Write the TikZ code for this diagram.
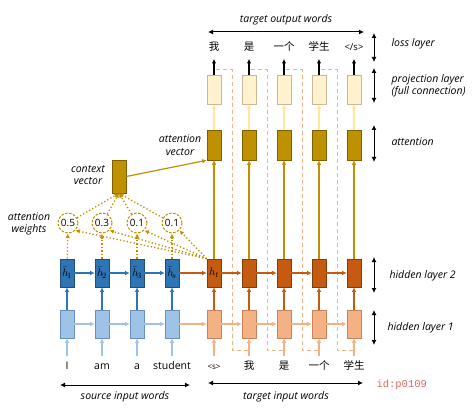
\documentclass[tikz,border=0pt]{standalone}
\usepackage{fontspec}
\setmainfont{Open Sans}
\newfontfamily\cjk{Noto Sans CJK SC}
\newfontfamily\idfont{Liberation Mono}
\usepackage{xcolor}
\usetikzlibrary{arrows.meta}
\tikzset{>={Latex[length=4.5pt,width=4.5pt]}}
\definecolor{blueDark}{HTML}{2E75B6}
\definecolor{blueDarkLine}{HTML}{1F4E79}
\definecolor{blueLight}{HTML}{9DC3E6}
\definecolor{blueLightLine}{HTML}{6C8EBF}
\definecolor{orangeDark}{HTML}{C55A11}
\definecolor{orangeDarkLine}{HTML}{843C0C}
\definecolor{orangeLight}{HTML}{F4B183}
\definecolor{orangeLightLine}{HTML}{C9835A}
\definecolor{gold}{HTML}{BF9000}
\definecolor{goldLine}{HTML}{7F6000}
\definecolor{cream}{HTML}{FFF2CC}
\definecolor{creamLine}{HTML}{C9B99A}
\definecolor{yellowArrow}{HTML}{FFE699}
\definecolor{idred}{HTML}{E06666}

\begin{document}
\begin{tikzpicture}[x=1pt,y=-1pt,
  every node/.style={font=\fontsize{10.5}{12.5}\selectfont},
  cell/.style={minimum width=14pt,minimum height=28pt,inner sep=0pt,line width=0.6pt},
  srcone/.style={cell,fill=blueLight,draw=blueLightLine},
  srctwo/.style={cell,fill=blueDark,draw=blueDarkLine,font=\fontsize{11}{13}\selectfont},
  tgtone/.style={cell,fill=orangeLight,draw=orangeLightLine},
  tgttwo/.style={cell,fill=orangeDark,draw=orangeDarkLine,font=\fontsize{11}{13}\selectfont},
  attn/.style={cell,minimum height=30pt,fill=gold,draw=goldLine},
  proj/.style={cell,minimum height=29pt,fill=cream,draw=creamLine},
  word/.style={text height=7.5pt,text depth=2pt,inner xsep=1pt,inner ysep=6pt},
  weight/.style={circle,draw=gold,dash pattern=on 2.5pt off 1.5pt,line width=1pt,minimum size=20pt,inner sep=0pt,font=\fontsize{10}{12}\selectfont},
  note/.style={font=\fontsize{10.5}{12.5}\selectfont\itshape,align=center},
  side/.style={note,anchor=west,align=left},
  arr/.style={->,line width=1.2pt},
  dots/.style={->,gold,line width=1.3pt,dash pattern=on 1.3pt off 2.2pt},
  fb/.style={orangeLight,line width=1pt,dash pattern=on 4pt off 3pt},
  span/.style={{Latex[length=5pt,width=5pt]}-{Latex[length=5pt,width=5pt]},line width=1pt}]
\useasboundingbox (0,0) rectangle (474,409);

% source words and encoder
\node[word] (wsrc1) at (67,367) {I};
\node[word] (wsrc2) at (102,367) {am};
\node[word] (wsrc3) at (137,367) {a};
\node[word] (wsrc4) at (172,367) {student};
\node[srcone] (src1) at (67,324) {};
\node[srcone] (src2) at (102,324) {};
\node[srcone] (src3) at (137,324) {};
\node[srcone] (src4) at (172,324) {};
\node[srctwo] (hs1) at (67,273) {$\bar{h}_{\!1}$};
\node[srctwo] (hs2) at (102,273) {$\bar{h}_{\!2}$};
\node[srctwo] (hs3) at (137,273) {$\bar{h}_{\!3}$};
\node[srctwo] (hs4) at (172,273) {$\bar{h}_{\!s}$};

% target words and decoder
\node[word] (win1) at (214,367) {\fontsize{8}{10}\selectfont <s>};
\node[word] (win2) at (249,367) {\cjk 我};
\node[word] (win3) at (284,367) {\cjk 是};
\node[word] (win4) at (319,367) {\cjk 一个};
\node[word] (win5) at (354,367) {\cjk 学生};
\node[tgtone] (in1) at (214,324) {};
\node[tgtone] (in2) at (249,324) {};
\node[tgtone] (in3) at (284,324) {};
\node[tgtone] (in4) at (319,324) {};
\node[tgtone] (in5) at (354,324) {};
\node[tgttwo] (ht1) at (214,273) {$h_t$};
\node[tgttwo] (ht2) at (249,273) {};
\node[tgttwo] (ht3) at (284,273) {};
\node[tgttwo] (ht4) at (319,273) {};
\node[tgttwo] (ht5) at (354,273) {};
\node[attn] (att1) at (214,145) {};
\node[attn] (att2) at (249,145) {};
\node[attn] (att3) at (284,145) {};
\node[attn] (att4) at (319,145) {};
\node[attn] (att5) at (354,145) {};
\node[proj] (proj1) at (214,89.5) {};
\node[proj] (proj2) at (249,89.5) {};
\node[proj] (proj3) at (284,89.5) {};
\node[proj] (proj4) at (319,89.5) {};
\node[proj] (proj5) at (354,89.5) {};
\node[word] (wout1) at (214,48) {\cjk 我};
\node[word] (wout2) at (249,48) {\cjk 是};
\node[word] (wout3) at (284,48) {\cjk 一个};
\node[word] (wout4) at (319,48) {\cjk 学生};
\node[word] (wout5) at (354,48) {\fontsize{9.5}{11}\selectfont </s>};

% attention weights and context vector
\node[weight] (wt1) at (68,223) {0.5};
\node[weight] (wt2) at (102,223) {0.3};
\node[weight] (wt3) at (137,223) {0.1};
\node[weight] (wt4) at (172,223) {0.1};
\node[cell,minimum height=33pt,fill=gold,draw=goldLine] (ctx) at (119,176.5) {};

% feedback points
\coordinate (fb2) at (249,350);
\coordinate (fb3) at (284,350);
\coordinate (fb4) at (319,350);
\coordinate (fb5) at (354,350);

% labels
\node[note] (ltop) at (286,20) {target output words};
\node[note] (lsrc) at (125,397) {source input words};
\node[note] (ltgt) at (286,397) {target input words};
\node[note] (lctx) at (88,175) {context\\vector};
\node[note] (lattv) at (180,145) {attention\\vector};
\node[note] (lwts) at (29,224) {attention\\weights};
\node[side] (lloss) at (388,44) {loss layer};
\node[side] (lproj) at (388,86) {projection layer\\(full connection)};
\node[side] (latt) at (388,142) {attention};
\node[side] (lh2) at (386,276) {hidden layer 2};
\node[side] (lh1) at (384,328) {hidden layer 1};
\node[anchor=west,text=idred,font=\idfont\fontsize{10.5}{12}\selectfont] (tag) at (373,385) {id:p0109};

% feedback from outputs to next inputs
\draw[fb] ([xshift=2pt,yshift=5pt]proj1.north) -- ++(16,0) |- (fb2);
\draw[fb] ([xshift=2pt,yshift=5pt]proj2.north) -- ++(16,0) |- (fb3);
\draw[fb] ([xshift=2pt,yshift=5pt]proj3.north) -- ++(16,0) |- (fb4);
\draw[fb] ([xshift=2pt,yshift=5pt]proj4.north) -- ++(16,0) |- (fb5);

% encoder connections
\draw[arr,blueLight] (wsrc1) -- (src1);
\draw[arr,blueLight] (wsrc2) -- (src2);
\draw[arr,blueLight] (wsrc3) -- (src3);
\draw[arr,blueLight] (wsrc4) -- (src4);
\draw[arr,blueLight] (src1) -- (src2);
\draw[arr,blueLight] (src2) -- (src3);
\draw[arr,blueLight] (src3) -- (src4);
\draw[arr,blueDark] (src1) -- (hs1);
\draw[arr,blueDark] (src2) -- (hs2);
\draw[arr,blueDark] (src3) -- (hs3);
\draw[arr,blueDark] (src4) -- (hs4);
\draw[arr,blueDark] (hs1) -- (hs2);
\draw[arr,blueDark] (hs2) -- (hs3);
\draw[arr,blueDark] (hs3) -- (hs4);

% decoder connections
\draw[arr,orangeLight] (src4) -- (in1);
\draw[arr,orangeDark] (hs4) -- (ht1);
\draw[arr,orangeLight] (win1) -- (in1);
\draw[arr,orangeLight] (win2) -- (in2);
\draw[arr,orangeLight] (win3) -- (in3);
\draw[arr,orangeLight] (win4) -- (in4);
\draw[arr,orangeLight] (win5) -- (in5);
\draw[arr,orangeLight] (in1) -- (in2);
\draw[arr,orangeLight] (in2) -- (in3);
\draw[arr,orangeLight] (in3) -- (in4);
\draw[arr,orangeLight] (in4) -- (in5);
\draw[arr,orangeDark] (in1) -- (ht1);
\draw[arr,orangeDark] (in2) -- (ht2);
\draw[arr,orangeDark] (in3) -- (ht3);
\draw[arr,orangeDark] (in4) -- (ht4);
\draw[arr,orangeDark] (in5) -- (ht5);
\draw[arr,orangeDark] (ht1) -- (ht2);
\draw[arr,orangeDark] (ht2) -- (ht3);
\draw[arr,orangeDark] (ht3) -- (ht4);
\draw[arr,orangeDark] (ht4) -- (ht5);
\draw[arr,gold] (ht1) -- (att1);
\draw[arr,gold] (ht2) -- (att2);
\draw[arr,gold] (ht3) -- (att3);
\draw[arr,gold] (ht4) -- (att4);
\draw[arr,gold] (ht5) -- (att5);
\draw[arr,yellowArrow] (att1) -- (proj1);
\draw[arr,yellowArrow] (att2) -- (proj2);
\draw[arr,yellowArrow] (att3) -- (proj3);
\draw[arr,yellowArrow] (att4) -- (proj4);
\draw[arr,yellowArrow] (att5) -- (proj5);
\draw[arr,black] (proj1) -- (wout1);
\draw[arr,black] (proj2) -- (wout2);
\draw[arr,black] (proj3) -- (wout3);
\draw[arr,black] (proj4) -- (wout4);
\draw[arr,black] (proj5) -- (wout5);

% attention
\draw[dots] (hs1) -- (wt1);
\draw[dots] (hs2) -- (wt2);
\draw[dots] (hs3) -- (wt3);
\draw[dots] (hs4) -- (wt4);
\draw[dots] (ht1.north west) -- (wt1.south east);
\draw[dots] (ht1.north west) -- (wt2.south east);
\draw[dots] (ht1.north west) -- (wt3.south east);
\draw[dots] (ht1.north west) -- (wt4.south east);
\draw[dots] (wt1) -- (ctx.south);
\draw[dots] (wt2) -- (ctx.south);
\draw[dots] (wt3) -- (ctx.south);
\draw[dots] (wt4) -- (ctx.south);
\draw[arr,gold] (ctx.east) -- (att1.south west);

% spans
\draw[span] (208,32) -- (364,32);
\draw[span] (60,385) -- (190,385);
\draw[span] (208,383) -- (363,383);
\draw[span] (374,33) -- (374,62);
\draw[span] (374,68) -- (374,103);
\draw[span] (374,125) -- (374,162);
\draw[span] (374,257) -- (374,293);
\draw[span] (374,310) -- (374,345);
\end{tikzpicture}
\end{document}
